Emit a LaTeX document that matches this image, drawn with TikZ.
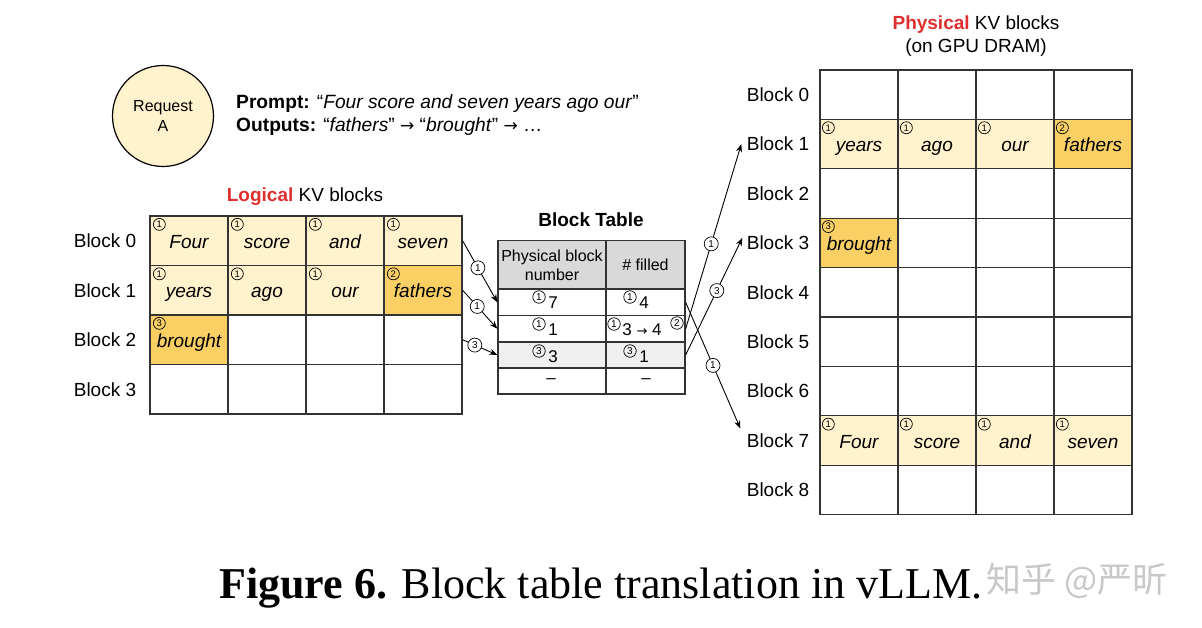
\documentclass[tikz,border=0pt]{standalone}
\usepackage{fontspec}
\newfontfamily\arial{Liberation Sans}
\newfontfamily\capserif{Liberation Serif}
\newfontfamily\cjk{Noto Sans CJK SC}
\newfontfamily\dejavu{DejaVu Sans}
\usetikzlibrary{arrows.meta,calc}
\definecolor{lightY}{HTML}{FFF2CC}
\definecolor{darkY}{HTML}{FAD064}
\definecolor{redL}{HTML}{E02F2F}
\definecolor{lineC}{HTML}{333333}
\definecolor{hdrG}{HTML}{D9D9D9}
\definecolor{rowG}{HTML}{EFEFEF}
\definecolor{wmG}{HTML}{C8C8C8}
\newcommand\fsz[1]{\fontsize{#1}{#1}\selectfont}
\newcommand\rarr{{\dejavu\fsz{17}→}}
\tikzset{
  cell/.style={draw=lineC, line width=1.3pt, minimum width=78pt, minimum height=49.5pt, inner sep=0pt, text height=19pt, text depth=4pt, font=\arial\itshape\fsz{19}},
  pcell/.style={cell, minimum height=49.4pt},
  cnum/.style={circle, draw=black, line width=0.7pt, inner sep=0pt, minimum size=12pt, font=\arial\fsz{9.5}},
  lab/.style={circle, draw=black, fill=white, line width=0.7pt, inner sep=0pt, minimum size=14pt, font=\arial\fsz{10}},
  blk/.style={font=\arial\fsz{19}},
  tcell/.style={draw=lineC, line width=1.3pt, inner sep=0pt, font=\arial\fsz{17}},
  conn/.style={draw=black, line width=0.9pt, -{Stealth[length=8pt,width=6pt]}},
}
\begin{document}
\begin{tikzpicture}[x=1pt,y=-1pt]
\path[use as bounding box, fill=white] (0,0) rectangle (1202,628);

% Request A
\node[circle, draw=black, line width=1.2pt, fill=lightY, minimum size=101pt, inner sep=0pt, align=center, font=\arial\fsz{16}] (req) at (163,116) {Request\\[4pt]A};
\node[anchor=base west, inner sep=0pt, font=\arial\fsz{19.2}] (prompt) at (236,109) {\textbf{Prompt:} “\textit{Four score and seven years ago our}”};
\node[anchor=base west, inner sep=0pt, font=\arial\fsz{19.2}] (outputs) at (236,132) {\textbf{Outputs:} “\textit{fathers}” \rarr{} “\textit{brought}” \rarr{} …};

% Logical KV blocks
\node[font=\arial\fsz{19}] (ltitle) at (305,197) {\textcolor{redL}{\textbf{Logical}} KV blocks};
\foreach \r/\c/\f/\w/\n in {0/0/lightY/Four/1,0/1/lightY/score/1,0/2/lightY/and/1,0/3/lightY/seven/1,
  1/0/lightY/years/1,1/1/lightY/ago/1,1/2/lightY/our/1,1/3/darkY/fathers/2,
  2/0/darkY/brought/3,2/1/white//0,2/2/white//0,2/3/white//0,
  3/0/white//0,3/1/white//0,3/2/white//0,3/3/white//0}{
  \node[cell, fill=\f] (L\r\c) at ({189+78*\c},{240.75+49.5*\r}) {\w};
  \ifnum\n>0 \node[cnum] at ($(L\r\c.north west)+(10,9)$) {\n}; \fi
}
\foreach \r in {0,1,2,3}{
  \node[blk] (LB\r) at (105,{240.75+49.5*\r}) {Block \r};
}

% Block table
\node[font=\arial\bfseries\fsz{19}] (ttitle) at (591,220) {Block Table};
\node[tcell, fill=hdrG, minimum width=108pt, minimum height=48.5pt, align=center, font=\arial\fsz{16}] (H1) at (552,265) {Physical block\\[3pt]number};
\node[tcell, fill=hdrG, minimum width=79pt, minimum height=48.5pt, font=\arial\fsz{16}] (H2) at (645.5,265) {\# filled};
\node[tcell, fill=white, minimum width=108pt, minimum height=26.5pt] (T1a) at (552,302.3) {};
\node[tcell, fill=white, minimum width=79pt, minimum height=26.5pt] (T1b) at (645.5,302.3) {};
\node[tcell, fill=white, minimum width=108pt, minimum height=26.5pt] (T2a) at (552,328.8) {};
\node[tcell, fill=white, minimum width=79pt, minimum height=26.5pt] (T2b) at (645.5,328.8) {};
\node[tcell, fill=rowG, minimum width=108pt, minimum height=26pt] (T3a) at (552,355) {};
\node[tcell, fill=rowG, minimum width=79pt, minimum height=26pt] (T3b) at (645.5,355) {};
\node[tcell, fill=white, minimum width=108pt, minimum height=26pt] (T4a) at (552,381) {};
\node[tcell, fill=white, minimum width=79pt, minimum height=26pt] (T4b) at (645.5,381) {};
% table contents
\node[cnum, minimum size=12.5pt, font=\arial\fsz{10}] at (539,297) {1};
\node[font=\arial\fsz{17}] at (553,303) {7};
\node[cnum, minimum size=12.5pt, font=\arial\fsz{10}] at (630,297) {1};
\node[font=\arial\fsz{17}] at (644,303) {4};
\node[cnum, minimum size=12.5pt, font=\arial\fsz{10}] at (539,324) {1};
\node[font=\arial\fsz{17}] at (553,330) {1};
\node[cnum, minimum size=12.5pt, font=\arial\fsz{10}] at (614,324) {1};
\node[font=\arial\fsz{17}] at (642,330) {3 {\dejavu\fsz{13}→} 4};
\node[cnum, minimum size=12.5pt, font=\arial\fsz{10}] at (677,323) {2};
\node[cnum, minimum size=12.5pt, font=\arial\fsz{10}] at (539,351) {3};
\node[font=\arial\fsz{17}] at (553,357) {3};
\node[cnum, minimum size=12.5pt, font=\arial\fsz{10}] at (630,351) {3};
\node[font=\arial\fsz{17}] at (644,357) {1};
\node[font=\arial\fsz{17}] at (551,381) {–};
\node[font=\arial\fsz{17}] at (646,381) {–};

% Physical KV blocks
\node[font=\arial\fsz{19}] (ptitle) at (976,25) {\textcolor{redL}{\textbf{Physical}} KV blocks};
\node[font=\arial\fsz{19}] (ptitle2) at (976,48) {(on GPU DRAM)};
\foreach \r in {0,...,8}{
  \foreach \c in {0,...,3}{
    \node[pcell, fill=white] (pg\r\c) at ({859+78*\c},{94.7+49.4*\r}) {};
  }
  \node[blk] (PB\r) at (778,{94.7+49.4*\r}) {Block \r};
}
\foreach \r/\c/\f/\w/\n in {1/0/lightY/years/1,1/1/lightY/ago/1,1/2/lightY/our/1,1/3/darkY/fathers/2,
  3/0/darkY/brought/3,
  7/0/lightY/Four/1,7/1/lightY/score/1,7/2/lightY/and/1,7/3/lightY/seven/1}{
  \node[pcell, fill=\f] (P\r\c) at ({859+78*\c},{94.7+49.4*\r}) {\w};
  \node[cnum] at ($(P\r\c.north west)+(9,9)$) {\n};
}

% connectors logical -> table
\draw[conn] (L03.east) -- node[lab, pos=0.44] {1} (T1a.west);
\draw[conn] (L13.east) -- node[lab, pos=0.42] {1} (T2a.west);
\draw[conn] (L23.east) -- node[lab, pos=0.35] {3} (T3a.west);
% connectors table -> physical
\draw[conn] (T2b.east) -- node[lab, pos=0.46] {1} ($(PB1.west)+(-2,0)$);
\draw[conn] (T3b.east) -- node[lab, pos=0.55] {3} ($(PB3.west)+(-1,-5)$);
\draw[conn] (T1b.east) -- node[lab, pos=0.5] {1} ($(PB7.west)+(-3,-12)$);

% caption and watermark
\node[anchor=base west, font=\capserif\fsz{44}, inner sep=0pt] (cap) at (219,598) {\textbf{Figure 6.} Block table translation in vLLM.};
\node[anchor=base west, font=\cjk\fsz{35}, text=wmG, inner sep=0pt] (wm) at (986,592) {知乎 @严昕};
\end{tikzpicture}
\end{document}
